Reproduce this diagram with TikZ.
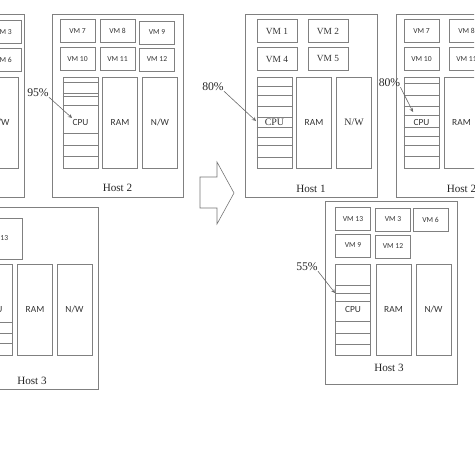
\documentclass[tikz,border=0pt]{standalone}
\usepackage{fontspec}
\setmainfont{Liberation Serif}
\newfontfamily\calfont{Carlito}
\tikzset{% 
    host/.style={draw=black!50,line width=0.6pt,inner sep=0pt,minimum width=3.93cm,minimum height=5.49cm},
    vmbox/.style={draw=black!50,line width=0.5pt,inner sep=0pt,minimum width=1.05cm,minimum height=0.69cm,
        text=black!80,font=\calfont\fontsize{6.5}{7}\selectfont},
    vmser/.style={vmbox,minimum width=1.2cm,font=\fontsize{8}{9}\selectfont},
    res/.style={draw=black!50,line width=0.5pt,inner sep=0pt,minimum width=1.05cm,minimum height=2.73cm,
        text=black!80,font=\calfont\fontsize{8}{9}\selectfont},
    resser/.style={res,font=\fontsize{8.5}{9}\selectfont},
    stripe/.style={draw=black!50,line width=0.5pt},
    hostlbl/.style={text=black!85,font=\fontsize{9.5}{11}\selectfont},
    pct/.style={inner sep=0pt,text=black!85,font=\fontsize{10}{12}\selectfont},
    load/.style={draw=black!60,line width=0.5pt,->,>=stealth}
}
\begin{document}
\begin{tikzpicture}[x=0.03cm,y=-0.03cm]
    \useasboundingbox (0,0) rectangle (474,474);
    \clip (0,0) rectangle (474,474);
    % before migration
    \begin{scope}[shift={(-107,14)}]
        \node[host] (bh1) at (65.5,91.5){};
        \node[vmbox] (bh1vm3) at (110.5,18){VM 3};
        \node[vmbox] (bh1vm6) at (110.5,45.5){VM 6};
        \node[res] (bh1nw) at (107.5,108.5){N/W};
    \end{scope}
    \begin{scope}[shift={(52,14)}]
        \node[host] (bh2) at (65.5,91.5){};
        \node[vmbox] (bh2vm7) at (25.5,17){VM 7};
        \node[vmbox] (bh2vm8) at (65.5,17){VM 8};
        \node[vmbox] (bh2vm9) at (105,18.5){VM 9};
        \node[vmbox] (bh2vm10) at (25.5,45){VM 10};
        \node[vmbox] (bh2vm11) at (65.5,45){VM 11};
        \node[vmbox] (bh2vm12) at (105,45.5){VM 12};
        \node[res] (bh2cpu) at (28.5,108.5){CPU};
        \node[res] (bh2ram) at (68,108.5){RAM};
        \node[res] (bh2nw) at (108,108.5){N/W};
        \draw[stripe] (bh2cpu.west |- 0,68) -- (bh2cpu.east |- 0,68)
            (bh2cpu.west |- 0,79) -- (bh2cpu.east |- 0,79)
            (bh2cpu.west |- 0,82) -- (bh2cpu.east |- 0,82)
            (bh2cpu.west |- 0,91) -- (bh2cpu.east |- 0,91)
            (bh2cpu.west |- 0,119) -- (bh2cpu.east |- 0,119)
            (bh2cpu.west |- 0,131) -- (bh2cpu.east |- 0,131)
            (bh2cpu.west |- 0,142) -- (bh2cpu.east |- 0,142);
        \node[hostlbl] (bh2lbl) at (65.5,174){Host 2};
        \node[pct] (bh2pct) at (-14,79){95\%};
        \coordinate (bh2tip) at (20,104);
        \draw[load] (bh2pct.south east) -- (bh2tip);
    \end{scope}
    \begin{scope}[shift={(-33,207)}]
        \node[host,minimum height=5.46cm] (bh3) at (65.5,91){};
        \node[vmbox,minimum width=1.44cm,minimum height=1.23cm] (bh3vm13) at (31,31.5){VM 13};
        \node[res] (bh3cpu) at (27.5,102.5){CPU};
        \node[res] (bh3ram) at (68,102.5){RAM};
        \node[res] (bh3nw) at (107.5,102.5){N/W};
        \draw[stripe] (bh3cpu.west |- 0,115) -- (bh3cpu.east |- 0,115)
            (bh3cpu.west |- 0,126) -- (bh3cpu.east |- 0,126)
            (bh3cpu.west |- 0,136) -- (bh3cpu.east |- 0,136);
        \node[hostlbl] (bh3lbl) at (65,174){Host 3};
    \end{scope}
    % migration arrow
    \draw[black!55,line width=0.5pt] (200,177) -- (217,177) -- (217,162) -- (234,193)
        -- (217,224) -- (217,208) -- (200,208) -- cycle;
    % after migration
    \begin{scope}[shift={(245,14)}]
        \node[host,minimum width=3.96cm] (ah1) at (66,91.5){};
        \node[vmser] (ah1vm1) at (32,17){VM 1};
        \node[vmser] (ah1vm2) at (83,17){VM 2};
        \node[vmser] (ah1vm4) at (32,45){VM 4};
        \node[vmser] (ah1vm5) at (83,45){VM 5};
        \node[resser] (ah1cpu) at (29.5,108.5){CPU};
        \node[res] (ah1ram) at (69,108.5){RAM};
        \node[resser] (ah1nw) at (109,108.5){N/W};
        \draw[stripe] (ah1cpu.west |- 0,72) -- (ah1cpu.east |- 0,72)
            (ah1cpu.west |- 0,81) -- (ah1cpu.east |- 0,81)
            (ah1cpu.west |- 0,92) -- (ah1cpu.east |- 0,92)
            (ah1cpu.west |- 0,103) -- (ah1cpu.east |- 0,103)
            (ah1cpu.west |- 0,113) -- (ah1cpu.east |- 0,113)
            (ah1cpu.west |- 0,123) -- (ah1cpu.east |- 0,123)
            (ah1cpu.west |- 0,131) -- (ah1cpu.east |- 0,131)
            (ah1cpu.west |- 0,143) -- (ah1cpu.east |- 0,143);
        \node[hostlbl] (ah1lbl) at (66,175){Host 1};
        \node[pct] (ah1pct) at (-32,73){80\%};
        \coordinate (ah1tip) at (11,107);
        \draw[load] (ah1pct.south east) -- (ah1tip);
    \end{scope}
    \begin{scope}[shift={(396,14)}]
        \node[host] (ah2) at (65.5,91.5){};
        \node[vmbox] (ah2vm7) at (25.5,17){VM 7};
        \node[vmbox] (ah2vm8) at (70.5,17){VM 8};
        \node[vmbox] (ah2vm10) at (25.5,45){VM 10};
        \node[vmbox] (ah2vm11) at (70.5,45){VM 11};
        \node[res] (ah2cpu) at (25.5,108.5){CPU};
        \node[res] (ah2ram) at (65.5,108.5){RAM};
        \draw[stripe] (ah2cpu.west |- 0,69) -- (ah2cpu.east |- 0,69)
            (ah2cpu.west |- 0,81) -- (ah2cpu.east |- 0,81)
            (ah2cpu.west |- 0,92) -- (ah2cpu.east |- 0,92)
            (ah2cpu.west |- 0,101) -- (ah2cpu.east |- 0,101)
            (ah2cpu.west |- 0,113) -- (ah2cpu.east |- 0,113)
            (ah2cpu.west |- 0,122) -- (ah2cpu.east |- 0,122)
            (ah2cpu.west |- 0,131) -- (ah2cpu.east |- 0,131)
            (ah2cpu.west |- 0,142) -- (ah2cpu.east |- 0,142);
        \node[hostlbl] (ah2lbl) at (65.5,175){Host 2};
        \node[pct] (ah2pct) at (-6.5,69){80\%};
        \coordinate (ah2tip) at (17,98);
        \draw[load] (ah2pct.south east) -- (ah2tip);
    \end{scope}
    \begin{scope}[shift={(325,201)}]
        \node[host,minimum width=3.96cm] (ah3) at (66,91.5){};
        \node[vmbox] (ah3vm13) at (28,18){VM 13};
        \node[vmbox] (ah3vm3) at (68,18.5){VM 3};
        \node[vmbox] (ah3vm6) at (105.5,18.5){VM 6};
        \node[vmbox] (ah3vm9) at (28,44.5){VM 9};
        \node[vmbox] (ah3vm12) at (68,45.5){VM 12};
        \node[res] (ah3cpu) at (28,108.5){CPU};
        \node[res] (ah3ram) at (68.5,108.5){RAM};
        \node[res] (ah3nw) at (108.5,108.5){N/W};
        \draw[stripe] (ah3cpu.west |- 0,84) -- (ah3cpu.east |- 0,84)
            (ah3cpu.west |- 0,92) -- (ah3cpu.east |- 0,92)
            (ah3cpu.west |- 0,100) -- (ah3cpu.east |- 0,100)
            (ah3cpu.west |- 0,120) -- (ah3cpu.east |- 0,120)
            (ah3cpu.west |- 0,132) -- (ah3cpu.east |- 0,132)
            (ah3cpu.west |- 0,143) -- (ah3cpu.east |- 0,143);
        \node[hostlbl] (ah3lbl) at (64,167){Host 3};
        \node[pct] (ah3pct) at (-18,66){55\%};
        \coordinate (ah3tip) at (10,92);
        \draw[load] (ah3pct.south east) -- (ah3tip);
    \end{scope}
\end{tikzpicture}
\end{document}
